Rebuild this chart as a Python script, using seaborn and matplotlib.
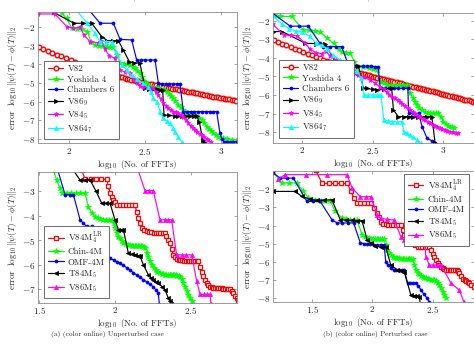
import matplotlib
matplotlib.use('Agg')
import matplotlib.pyplot as plt
import pandas as pd
import seaborn as sns

# ---------------- data (x = log10 No. of FFTs, y = log10 error) ----------------
# Top-left: unperturbed, splitting methods
tl_v82 = [(1.80,-3.05),(1.83,-3.16),(1.86,-3.26),(1.89,-3.37),(1.92,-3.47),(1.95,-3.57),(1.98,-3.66),(2.01,-3.76),(2.04,-3.85),(2.07,-3.95),(2.10,-4.04),
          (2.125,-4.11),(2.15,-4.19),(2.175,-4.26),(2.20,-4.33),(2.22,-4.38),(2.24,-4.43),(2.26,-4.48),(2.28,-4.53),(2.30,-4.58),(2.32,-4.62),
          (2.335,-4.66),(2.35,-4.69),(2.365,-4.72),(2.38,-4.76),(2.395,-4.79),(2.41,-4.82),(2.425,-4.85),(2.44,-4.88),(2.455,-4.91),(2.47,-4.94),(2.485,-4.97),(2.50,-5.00),
          (2.515,-5.03),(2.53,-5.05),(2.545,-5.08),(2.56,-5.10),(2.575,-5.13),(2.59,-5.15),(2.605,-5.18),(2.62,-5.20),(2.635,-5.23),(2.65,-5.25),
          (2.665,-5.27),(2.68,-5.30),(2.695,-5.32),(2.71,-5.35),(2.725,-5.37),(2.74,-5.39),(2.755,-5.42),(2.77,-5.44),(2.785,-5.47),(2.80,-5.49),
          (2.815,-5.51),(2.83,-5.54),(2.845,-5.56),(2.86,-5.59),(2.875,-5.61),(2.89,-5.63),(2.905,-5.66),(2.92,-5.68),(2.935,-5.70),(2.95,-5.73),
          (2.965,-5.75),(2.98,-5.77),(2.995,-5.79),(3.01,-5.82),(3.025,-5.84),(3.04,-5.86),(3.055,-5.88),(3.07,-5.91),(3.085,-5.93),(3.10,-5.95)]
tl_yoshida = [(1.952,-1.25),(1.985,-1.52),(2.018,-2.05),(2.05,-2.08),(2.083,-2.11),(2.121,-2.23),(2.143,-2.77),(2.171,-2.95),(2.20,-3.00),(2.225,-3.03),
              (2.248,-3.04),(2.27,-3.06),(2.292,-3.08),(2.314,-3.49),(2.336,-3.94),(2.36,-3.96),(2.38,-3.97),(2.40,-4.03),(2.418,-4.12),(2.434,-4.21),
              (2.45,-4.33),(2.467,-4.48),(2.483,-4.70),(2.50,-4.93),(2.515,-5.08),(2.533,-5.20),(2.55,-5.24),(2.57,-5.27),(2.588,-5.29),(2.605,-5.34),
              (2.625,-5.40),(2.643,-5.47),(2.657,-5.57),(2.672,-5.69),(2.686,-5.82),(2.70,-5.97),(2.719,-6.18),(2.734,-6.31),(2.748,-6.43),(2.763,-6.54),
              (2.78,-6.62),(2.80,-6.68),(2.818,-6.72),(2.835,-6.79),(2.855,-6.88),(2.873,-6.99),(2.89,-7.15),(2.906,-7.35),(2.92,-7.48),(2.935,-7.60),
              (2.95,-7.71),(2.967,-7.81),(2.983,-7.89),(3.0,-7.94),(3.015,-7.98),(3.04,-8.02),(3.07,-8.05),(3.103,-8.07)]
tl_chambers = [(2.125,-1.0),(2.204,-1.78),(2.292,-1.78),(2.336,-2.65),(2.412,-2.68),(2.445,-3.76),(2.475,-3.76),(2.50,-3.76),(2.53,-3.76),(2.566,-3.76),
               (2.588,-5.02),(2.61,-5.03),(2.635,-5.04),(2.66,-5.04),(2.685,-5.05),(2.71,-5.05),(2.730,-5.05),(2.752,-6.54),(2.775,-6.54),(2.80,-6.54),
               (2.825,-6.54),(2.85,-6.54),(2.875,-6.54),(2.90,-6.54),(2.925,-6.54),(2.95,-6.54),(2.971,-6.54),(2.993,-7.71),(3.005,-8.0),(3.02,-8.16),
               (3.04,-8.16),(3.06,-8.16),(3.08,-8.16),(3.103,-8.16)]
tl_v86 = [(1.90,-1.2),(2.033,-1.78),(2.09,-1.78),(2.149,-1.78),(2.215,-2.50),(2.252,-2.72),(2.29,-2.72),(2.325,-2.72),(2.357,-3.22),(2.397,-3.85),
          (2.43,-3.90),(2.467,-3.94),(2.50,-5.29),(2.525,-5.30),(2.55,-5.32),(2.577,-5.34),(2.60,-5.36),(2.616,-5.38),(2.625,-6.72),(2.66,-6.75),
          (2.697,-6.78),(2.72,-6.78),(2.745,-6.78),(2.77,-6.78),(2.795,-6.78),(2.82,-6.78),(2.840,-6.78),(2.857,-7.08),(2.879,-8.07),(2.885,-8.2)]
tl_v84 = [(1.798,-1.28),(1.908,-1.28),(1.985,-1.96),(2.029,-2.05),(2.072,-2.00),(2.099,-2.41),(2.138,-2.77),(2.193,-2.83),(2.211,-2.72),(2.237,-3.18),
          (2.265,-3.54),(2.303,-3.67),(2.336,-4.30),(2.37,-4.42),(2.401,-4.48),(2.425,-4.80),(2.445,-5.02),(2.47,-5.15),(2.489,-5.20),(2.51,-5.24),
          (2.535,-5.27),(2.555,-5.29),(2.575,-5.50),(2.588,-5.64),(2.605,-5.88),(2.621,-6.09),(2.638,-6.24),(2.654,-6.36),(2.67,-6.46),(2.686,-6.54),
          (2.703,-6.59),(2.719,-6.63),(2.735,-6.72),(2.752,-6.81),(2.768,-6.98),(2.785,-7.17),(2.80,-7.30),(2.815,-7.43),(2.829,-7.53),(2.845,-7.64),
          (2.86,-7.73),(2.873,-7.80),(2.89,-7.92),(2.905,-8.0),(2.917,-8.07),(2.935,-8.2)]
tl_v864 = [(2.04,-1.0),(2.121,-1.78),(2.171,-2.32),(2.204,-2.77),(2.245,-2.77),(2.281,-2.77),(2.309,-3.31),(2.346,-4.03),(2.38,-4.30),(2.412,-4.57),
           (2.45,-4.80),(2.489,-5.02),(2.522,-5.23),(2.54,-5.50),(2.555,-5.82),(2.58,-6.0),(2.599,-6.54),(2.621,-6.90),(2.645,-7.05),(2.664,-7.17),
           (2.686,-7.44),(2.70,-7.62),(2.719,-7.89),(2.741,-8.16),(2.75,-8.3)]

# Top-right: perturbed, splitting methods
tr_v82 = [(1.80,-3.05),(1.83,-3.14),(1.86,-3.24),(1.89,-3.33),(1.92,-3.42),(1.95,-3.51),(1.98,-3.60),(2.01,-3.69),(2.04,-3.78),(2.07,-3.87),(2.10,-3.96),
          (2.125,-4.03),(2.15,-4.11),(2.175,-4.18),(2.20,-4.25),(2.22,-4.31),(2.24,-4.37),(2.26,-4.42),(2.28,-4.48),(2.30,-4.54),(2.32,-4.59),(2.34,-4.64),
          (2.36,-4.70),(2.38,-4.75),(2.40,-4.80),(2.415,-4.83),(2.43,-4.86),(2.445,-4.89),(2.46,-4.92),(2.475,-4.95),(2.49,-4.98),(2.505,-5.01),(2.52,-5.04),
          (2.535,-5.07),(2.55,-5.10),(2.565,-5.12),(2.58,-5.15),(2.595,-5.18),(2.61,-5.21),(2.625,-5.24),(2.64,-5.27),(2.655,-5.29),(2.67,-5.32),(2.685,-5.35),
          (2.70,-5.38),(2.715,-5.41),(2.73,-5.44),(2.745,-5.46),(2.76,-5.49),(2.775,-5.52),(2.79,-5.55),(2.805,-5.58),(2.82,-5.61),(2.835,-5.64),(2.85,-5.66),
          (2.865,-5.69),(2.88,-5.72),(2.895,-5.75),(2.91,-5.78),(2.925,-5.81),(2.94,-5.84),(2.955,-5.86),(2.97,-5.89),(2.985,-5.92),(3.00,-5.95),(3.015,-5.98),
          (3.03,-6.01),(3.045,-6.04),(3.06,-6.06),(3.075,-6.09),(3.09,-6.12),(3.105,-6.15),(3.12,-6.18),(3.135,-6.21),(3.15,-6.24),(3.165,-6.26),(3.18,-6.29),
          (3.195,-6.32),(3.21,-6.35),(3.225,-6.38)]
tr_yoshida = [(1.80,-1.70),(1.844,-1.78),(1.927,-1.78),(2.009,-2.50),(2.05,-2.52),(2.09,-2.55),(2.13,-2.60),(2.177,-2.95),(2.225,-3.22),(2.26,-3.55),
              (2.284,-3.67),(2.31,-3.72),(2.343,-3.76),(2.37,-4.2),(2.39,-4.47),(2.43,-4.52),(2.473,-4.56),(2.50,-4.60),(2.532,-4.65),(2.556,-5.28),
              (2.58,-5.38),(2.603,-5.46),(2.63,-5.46),(2.66,-5.46),(2.69,-5.46),(2.715,-5.46),(2.742,-5.46),(2.766,-5.91),(2.785,-6.15),(2.801,-6.35),
              (2.815,-6.52),(2.832,-6.68),(2.849,-6.80),(2.87,-6.90),(2.89,-6.95),(2.908,-6.98),(2.93,-6.98),(2.95,-6.98),(2.967,-6.98),(2.985,-7.20),
              (3.002,-7.43),(3.02,-7.55),(3.035,-7.64),(3.05,-7.70),(3.065,-7.74),(3.08,-7.77)]
tr_chambers = [(1.794,-1.62),(1.917,-2.30),(1.98,-2.30),(2.045,-2.30),(2.128,-3.22),(2.151,-3.40),(2.20,-3.40),(2.24,-3.40),(2.281,-3.40),(2.33,-4.40),
               (2.37,-4.42),(2.40,-4.44),(2.43,-4.45),(2.46,-4.45),(2.49,-4.46),(2.52,-4.47),(2.54,-4.47),(2.555,-5.64),(2.59,-5.64),(2.62,-5.64),
               (2.65,-5.64),(2.68,-5.64),(2.715,-5.64),(2.75,-5.64),(2.756,-6.98),(2.79,-6.98),(2.827,-6.98),(2.851,-7.70),(2.887,-8.33),(2.92,-8.45),
               (2.946,-8.56)]
tr_v86 = [(1.794,-2.59),(1.86,-2.59),(2.024,-3.22),(2.10,-3.24),(2.165,-3.25),(2.248,-4.38),(2.29,-4.38),(2.331,-4.38),(2.40,-4.42),(2.435,-5.64),
          (2.459,-5.64),(2.50,-5.70),(2.530,-5.73),(2.58,-5.68),(2.636,-5.64),(2.648,-6.80),(2.683,-7.16),(2.72,-7.16),(2.755,-7.16),(2.79,-7.16),
          (2.82,-7.16),(2.85,-7.16),(2.885,-7.16),(2.920,-7.16),(2.943,-8.56)]
tr_v84 = [(1.794,-2.2),(1.87,-2.77),(1.92,-2.80),(1.965,-2.82),(2.02,-3.2),(2.06,-3.55),(2.10,-3.72),(2.14,-3.78),(2.17,-3.65),(2.20,-3.90),
          (2.24,-4.10),(2.28,-4.35),(2.32,-4.55),(2.36,-4.80),(2.40,-4.95),(2.44,-5.05),(2.482,-5.19),(2.52,-5.38),(2.553,-5.55),(2.58,-5.70),
          (2.60,-5.85),(2.62,-5.98),(2.64,-6.08),(2.66,-6.18),(2.68,-6.28),(2.695,-6.35),(2.71,-6.46),(2.73,-6.60),(2.75,-6.72),(2.766,-6.80),
          (2.785,-6.92),(2.80,-7.02),(2.82,-7.10),(2.837,-7.16),(2.855,-7.27),(2.87,-7.36),(2.89,-7.45),(2.908,-7.52),(2.925,-7.60),(2.94,-7.68),
          (2.96,-7.74),(2.979,-7.79),(2.995,-7.84),(3.01,-7.89),(3.03,-7.93),(3.05,-7.97),(3.07,-8.00),(3.09,-8.03),(3.109,-8.06)]
tr_v864 = [(1.794,-1.75),(1.86,-2.2),(1.91,-2.45),(1.96,-2.55),(2.00,-2.62),(2.057,-2.85),(2.10,-3.2),(2.14,-3.30),(2.18,-3.55),(2.22,-3.85),
           (2.27,-4.10),(2.33,-4.35),(2.39,-4.70),(2.42,-5.10),(2.44,-6.00),(2.47,-6.00),(2.50,-6.00),(2.53,-6.00),(2.56,-6.00),(2.58,-7.34),
           (2.61,-7.40),(2.64,-7.43),(2.675,-7.43),(2.71,-7.43),(2.72,-7.97),(2.745,-8.05),(2.768,-8.15),(2.79,-8.28),(2.816,-8.42),(2.84,-8.56)]

# Bottom-left: unperturbed, Magnus-type methods
bl_v84m = [(1.78,-2.13),(1.802,-2.51),(1.84,-2.51),(1.875,-2.51),(1.91,-2.51),(1.945,-2.51),(1.956,-2.80),(1.967,-3.07),(1.978,-3.22),(1.989,-3.34),
           (2.0,-3.45),(2.011,-3.54),(2.03,-3.55),(2.05,-3.55),(2.07,-3.56),(2.09,-3.56),(2.11,-3.57),(2.132,-3.57),(2.143,-3.84),(2.154,-4.09),
           (2.165,-4.30),(2.176,-4.50),(2.19,-4.57),(2.209,-4.63),(2.225,-4.66),(2.24,-4.67),(2.255,-4.68),(2.27,-4.68),(2.285,-4.69),(2.30,-4.69),
           (2.315,-4.70),(2.330,-4.70),(2.34,-4.84),(2.35,-4.97),(2.363,-5.11),(2.374,-5.36),(2.385,-5.59),(2.396,-5.68),(2.407,-5.75),(2.42,-5.78),
           (2.432,-5.80),(2.444,-5.81),(2.456,-5.82),(2.468,-5.83),(2.48,-5.84),(2.492,-5.84),(2.504,-5.85),(2.516,-5.85),(2.528,-5.86),(2.54,-5.86),
           (2.551,-5.86),(2.562,-6.07),(2.573,-6.27),(2.584,-6.44),(2.595,-6.60),(2.606,-6.74),(2.617,-6.82),(2.628,-6.88),(2.639,-6.92),(2.650,-6.95),
           (2.661,-6.95),(2.672,-6.96),(2.683,-6.96),(2.694,-6.96),(2.705,-6.96),(2.716,-6.97),(2.727,-6.97),(2.738,-6.97),(2.749,-6.97),(2.760,-6.97),
           (2.771,-7.06),(2.782,-7.16),(2.793,-7.26),(2.804,-7.35),(2.815,-7.45)]
bl_chin = [(1.593,-2.13),(1.615,-2.55),(1.637,-2.88),(1.648,-3.08),(1.68,-3.08),(1.71,-3.08),(1.74,-3.08),(1.77,-3.08),(1.802,-3.08),(1.824,-3.63),
           (1.846,-3.88),(1.868,-4.03),(1.885,-4.10),(1.901,-4.14),(1.92,-4.15),(1.94,-4.16),(1.96,-4.16),(1.978,-4.17),(1.99,-4.30),(2.0,-4.50),
           (2.011,-4.70),(2.022,-4.85),(2.033,-4.92),(2.045,-5.02),(2.055,-5.10),(2.07,-5.15),(2.085,-5.18),(2.099,-5.20),(2.11,-5.22),(2.12,-5.23),
           (2.13,-5.24),(2.14,-5.24),(2.15,-5.24),(2.16,-5.24),(2.17,-5.24),(2.18,-5.24),(2.19,-5.25),(2.20,-5.30),(2.209,-5.50),(2.218,-5.68),
           (2.23,-5.85),(2.242,-5.99),(2.255,-6.12),(2.268,-6.22),(2.28,-6.28),(2.297,-6.33),(2.31,-6.37),(2.32,-6.39),(2.33,-6.40),(2.34,-6.41),
           (2.35,-6.41),(2.36,-6.42),(2.37,-6.42),(2.38,-6.42),(2.39,-6.43),(2.40,-6.43),(2.41,-6.44),(2.42,-6.46),(2.43,-6.50),(2.441,-6.58),
           (2.452,-6.74),(2.463,-6.92),(2.474,-7.08),(2.485,-7.22),(2.496,-7.36),(2.507,-7.49),(2.515,-7.6)]
bl_omf = [(1.62,-2.1),(1.67,-3.14),(1.70,-3.14),(1.725,-3.14),(1.769,-4.16),(1.79,-4.30),(1.813,-4.43),(1.846,-4.43),(1.868,-4.77),(1.879,-5.26),
          (1.90,-5.55),(1.923,-5.64),(1.945,-5.70),(1.967,-5.73),(1.99,-5.80),(2.01,-5.87),(2.033,-5.94),(2.055,-6.02),(2.077,-6.11),(2.099,-6.21),
          (2.12,-6.31),(2.143,-6.41),(2.165,-6.51),(2.187,-6.60),(2.209,-6.69),(2.231,-6.78),(2.25,-6.88),(2.27,-7.02),(2.286,-7.16),(2.293,-7.6)]
bl_t84 = [(1.72,-2.1),(1.769,-2.54),(1.80,-2.54),(1.835,-2.54),(1.875,-3.0),(1.912,-3.49),(1.94,-3.49),(1.967,-3.49),(2.0,-4.16),(2.022,-4.56),
          (2.04,-4.56),(2.055,-4.56),(2.088,-5.52),(2.11,-5.56),(2.132,-5.59),(2.15,-5.62),(2.165,-5.65),(2.187,-5.99),(2.220,-6.40),(2.237,-6.52),
          (2.253,-6.61),(2.27,-6.68),(2.286,-6.74),(2.31,-6.88),(2.330,-7.01),(2.352,-7.35),(2.363,-7.49),(2.37,-7.6)]
bl_v86m = [(2.15,-2.1),(2.198,-2.97),(2.225,-2.97),(2.253,-2.97),(2.297,-4.16),(2.33,-4.16),(2.35,-4.16),(2.374,-4.16),(2.407,-5.59),(2.44,-5.59),
           (2.47,-5.59),(2.507,-5.59),(2.54,-6.67),(2.562,-7.20),(2.585,-7.20),(2.605,-7.20),(2.628,-7.20),(2.634,-7.6)]

# Bottom-right: perturbed, Magnus-type methods
br_v84m = [(1.528,-0.96),(1.583,-1.69),(1.64,-1.69),(1.69,-1.69),(1.74,-1.69),(1.792,-1.69),(1.82,-2.10),(1.847,-2.51),(1.875,-2.79),(1.90,-2.79),
           (1.93,-2.79),(1.96,-2.79),(1.986,-2.79),(2.014,-3.05),(2.042,-3.33),(2.055,-3.56),(2.069,-3.79),(2.09,-3.90),(2.11,-3.94),(2.13,-3.96),
           (2.153,-3.97),(2.175,-3.97),(2.195,-3.97),(2.215,-3.97),(2.236,-3.97),(2.25,-4.25),(2.264,-4.52),(2.285,-4.68),(2.306,-4.80),(2.33,-4.95),
           (2.352,-5.07),(2.375,-5.16),(2.395,-5.18),(2.415,-5.19),(2.435,-5.20),(2.455,-5.20),(2.472,-5.20),(2.486,-5.37),(2.50,-5.54),(2.514,-5.71),
           (2.528,-5.89),(2.542,-6.04),(2.556,-6.16),(2.569,-6.26),(2.583,-6.33),(2.597,-6.39),(2.611,-6.44),(2.625,-6.44),(2.64,-6.44),(2.655,-6.44),
           (2.67,-6.44),(2.685,-6.44),(2.70,-6.44),(2.708,-6.47),(2.72,-6.62),(2.735,-6.78),(2.75,-6.92),(2.765,-6.98),(2.78,-7.05),(2.792,-7.08),
           (2.805,-7.17),(2.82,-7.27),(2.842,-7.36)]
br_chin = [(1.175,-1.05),(1.247,-1.67),(1.31,-1.67),(1.372,-1.67),(1.428,-2.13),(1.469,-2.49),(1.525,-2.59),(1.57,-2.64),(1.61,-2.66),(1.65,-2.68),
           (1.692,-3.22),(1.747,-3.59),(1.782,-3.64),(1.817,-3.68),(1.845,-3.68),(1.872,-3.68),(1.914,-4.50),(1.935,-4.62),(1.956,-4.69),(1.975,-4.71),
           (1.99,-4.72),(2.005,-4.72),(2.02,-4.73),(2.035,-4.73),(2.05,-4.73),(2.065,-4.74),(2.08,-4.74),(2.097,-4.74),(2.11,-5.05),(2.125,-5.35),
           (2.14,-5.50),(2.153,-5.62),(2.167,-5.71),(2.18,-5.76),(2.194,-5.78),(2.208,-5.80),(2.222,-5.81),(2.236,-5.82),(2.25,-5.83),(2.264,-5.84),
           (2.278,-5.84),(2.292,-5.85),(2.306,-5.85),(2.32,-5.86),(2.333,-5.86),(2.347,-6.15),(2.361,-6.44),(2.375,-6.58),(2.389,-6.68),(2.403,-6.76),
           (2.417,-6.81),(2.431,-6.86),(2.445,-6.90),(2.459,-6.93),(2.473,-6.95),(2.487,-6.97),(2.50,-6.98),(2.514,-6.99),(2.528,-7.05),(2.542,-7.15),
           (2.556,-7.27),(2.569,-7.45),(2.583,-7.63),(2.597,-7.82),(2.611,-8.0)]
br_omf = [(1.175,-1.10),(1.233,-1.40),(1.29,-1.40),(1.344,-1.40),(1.456,-2.68),(1.51,-2.68),(1.567,-2.68),(1.664,-3.68),(1.706,-3.86),(1.75,-3.86),
          (1.80,-3.86),(1.844,-3.86),(1.9,-4.96),(1.93,-4.99),(1.955,-5.02),(1.98,-5.04),(2.011,-5.05),(2.04,-5.06),(2.07,-5.06),(2.097,-5.07),
          (2.111,-5.99),(2.13,-6.15),(2.155,-6.32),(2.181,-6.44),(2.20,-6.44),(2.222,-6.44),(2.243,-6.44),(2.264,-6.44),(2.292,-7.17),(2.315,-7.17),
          (2.338,-7.17),(2.361,-7.17),(2.38,-7.30),(2.403,-7.54),(2.425,-7.75),(2.45,-7.95),(2.472,-8.18),(2.48,-8.3)]
br_t84 = [(1.175,-2.13),(1.358,-2.13),(1.414,-2.40),(1.48,-2.55),(1.539,-2.62),(1.60,-2.60),(1.664,-2.59),(1.733,-3.68),(1.78,-3.70),(1.83,-3.72),
          (1.87,-3.73),(1.914,-3.74),(1.956,-4.78),(1.99,-4.97),(2.025,-5.14),(2.07,-5.18),(2.111,-5.20),(2.153,-6.17),(2.208,-6.44),(2.236,-6.50),
          (2.264,-6.53),(2.319,-7.81),(2.345,-7.86),(2.37,-7.88),(2.389,-7.90),(2.397,-8.3)]
br_v86m = [(1.22,-1.45),(1.275,-1.21),(1.45,-1.21),(1.62,-1.21),(1.789,-1.21),(1.833,-1.96),(1.9,-2.42),(1.95,-2.42),(1.986,-2.42),(2.042,-3.43),
           (2.069,-3.61),(2.125,-3.66),(2.181,-3.70),(2.236,-4.61),(2.264,-4.80),(2.32,-4.80),(2.375,-4.80),(2.431,-4.80),(2.444,-5.71),(2.472,-6.17),
           (2.505,-6.17),(2.537,-6.17),(2.569,-6.17),(2.653,-7.17),(2.722,-7.54),(2.758,-8.18),(2.765,-8.3)]

top_labels = [r'V82', r'Yoshida 4', r'Chambers 6', r'V86$_9$', r'V84$_5$', r'V864$_7$']
bot_labels = [r'V84M$_4^{\rm LR}$', r'Chin-4M', r'OMF-4M', r'T84M$_5$', r'V86M$_5$']
captions = ['(a) (color online) Unperturbed case', '(b) (color online) Perturbed case']

RED, GREEN, BLUE, BLACK, MAG, CYAN = '#ff0000', '#00ff00', '#0000ff', '#000000', '#ff00ff', '#00ffff'

# ---------------- style ----------------
sns.set_theme(style='white')
plt.rcParams['font.family'] = ['cmr10', 'DejaVu Serif']
plt.rcParams['mathtext.fontset'] = 'cm'
plt.rcParams['axes.unicode_minus'] = False

fig = plt.figure(figsize=(4.74, 3.5), dpi=100)
W, H = 474.0, 350.0

def make_ax(x0, y0, x1, y1):
    return fig.add_axes([x0 / W, 1 - y1 / H, (x1 - x0) / W, (y1 - y0) / H])

ax_tl = make_ax(38, 12.3, 237, 143.3)
ax_tr = make_ax(273, 13.3, 473.6, 142.7)
ax_bl = make_ax(38.3, 171.7, 236.7, 302.7)
ax_br = make_ax(273, 171.0, 473.6, 301.7)


def draw(ax, pts, color, marker, ms, label, hollow=False, mew=0.5):
    df = pd.DataFrame(pts, columns=['x', 'y'])
    sns.lineplot(data=df, x='x', y='y', ax=ax, color=color, marker=marker,
                 markersize=ms, linewidth=0.85, markeredgecolor=color,
                 markerfacecolor='white' if hollow else color,
                 markeredgewidth=mew, sort=False, estimator=None,
                 label=label, legend=False)


def style(ax, xlim, ylim, xticks, yticks, legend_loc, anchor):
    ax.set_xlim(*xlim)
    ax.set_ylim(*ylim)
    ax.set_xticks(xticks, [r'$%g$' % t for t in xticks])
    ax.set_yticks(yticks, [r'$%g$' % t for t in yticks])
    ax.tick_params(direction='in', length=2.5, width=0.5, color='#808080',
                   labelsize=6.6, pad=2.0, top=True, right=True,
                   bottom=True, left=True)
    for sp in ax.spines.values():
        sp.set_color('#8c8c8c')
        sp.set_linewidth(0.6)
    ax.set_xlabel(r'$\log_{10}$ (No. of FFTs)', fontsize=6.5, labelpad=0.5)
    ax.set_ylabel(r'error $\;\log_{10}\|\psi(T)-\phi(T)\|_2$', fontsize=6.5, labelpad=2)
    leg = ax.legend(loc=legend_loc, bbox_to_anchor=anchor, fontsize=6.5,
                    frameon=True, fancybox=False, framealpha=1,
                    edgecolor='#555555', borderpad=0.45, labelspacing=0.22,
                    handlelength=1.7, handletextpad=0.45, borderaxespad=0)
    leg.get_frame().set_linewidth(0.6)


# top panels
for ax, series in [(ax_tl, [tl_v82, tl_yoshida, tl_chambers, tl_v86, tl_v84, tl_v864]),
                   (ax_tr, [tr_v82, tr_yoshida, tr_chambers, tr_v86, tr_v84, tr_v864])]:
    draw(ax, series[0], RED, 'o', 3.3, top_labels[0], hollow=True, mew=1.0)
    draw(ax, series[1], GREEN, '*', 4.0, top_labels[1])
    draw(ax, series[2], BLUE, 'o', 2.2, top_labels[2])
    draw(ax, series[3], BLACK, '>', 3.0, top_labels[3])
    draw(ax, series[4], MAG, '*', 3.6, top_labels[4])
    draw(ax, series[5], CYAN, '^', 3.0, top_labels[5])

style(ax_tl, (1.796, 3.105), (-8.25, -1.19), [2, 2.5, 3], list(range(-8, -1)),
      'lower left', (0.03, 0.035))
style(ax_tr, (1.795, 3.216), (-8.56, -1.61), [2, 2.5, 3], list(range(-8, -1)),
      'lower left', (0.03, 0.04))

# bottom panels
for ax, series in [(ax_bl, [bl_v84m, bl_chin, bl_omf, bl_t84, bl_v86m]),
                   (ax_br, [br_v84m, br_chin, br_omf, br_t84, br_v86m])]:
    draw(ax, series[0], RED, 's', 3.1, bot_labels[0], hollow=True, mew=0.9)
    draw(ax, series[1], GREEN, '*', 3.8, bot_labels[1])
    draw(ax, series[2], BLUE, 'o', 2.2, bot_labels[2])
    draw(ax, series[3], BLACK, '<', 3.0, bot_labels[3])
    draw(ax, series[4], MAG, '^', 3.0, bot_labels[4])

style(ax_bl, (1.493, 2.804), (-7.54, -2.2), [1.5, 2, 2.5], list(range(-7, -2)),
      'lower left', (0.03, 0.038))
style(ax_br, (1.175, 2.84), (-8.18, -1.01), [1.5, 2, 2.5], list(range(-8, -1)),
      'upper right', (0.975, 0.977))

# captions and clipped top titles
fig.text(107 / W, 1 - 335 / H, captions[0], ha='center', va='center', fontsize=5.2)
fig.text(375 / W, 1 - 335 / H, captions[1], ha='center', va='center', fontsize=5.2)
fig.text(138 / W, 1.004, r'$T = 100,\ N = 128$', ha='center', va='center', fontsize=6)
fig.text(372 / W, 1.004, r'$T = 100,\ N = 128$', ha='center', va='center', fontsize=6)

fig.savefig('out.png', dpi=100)
